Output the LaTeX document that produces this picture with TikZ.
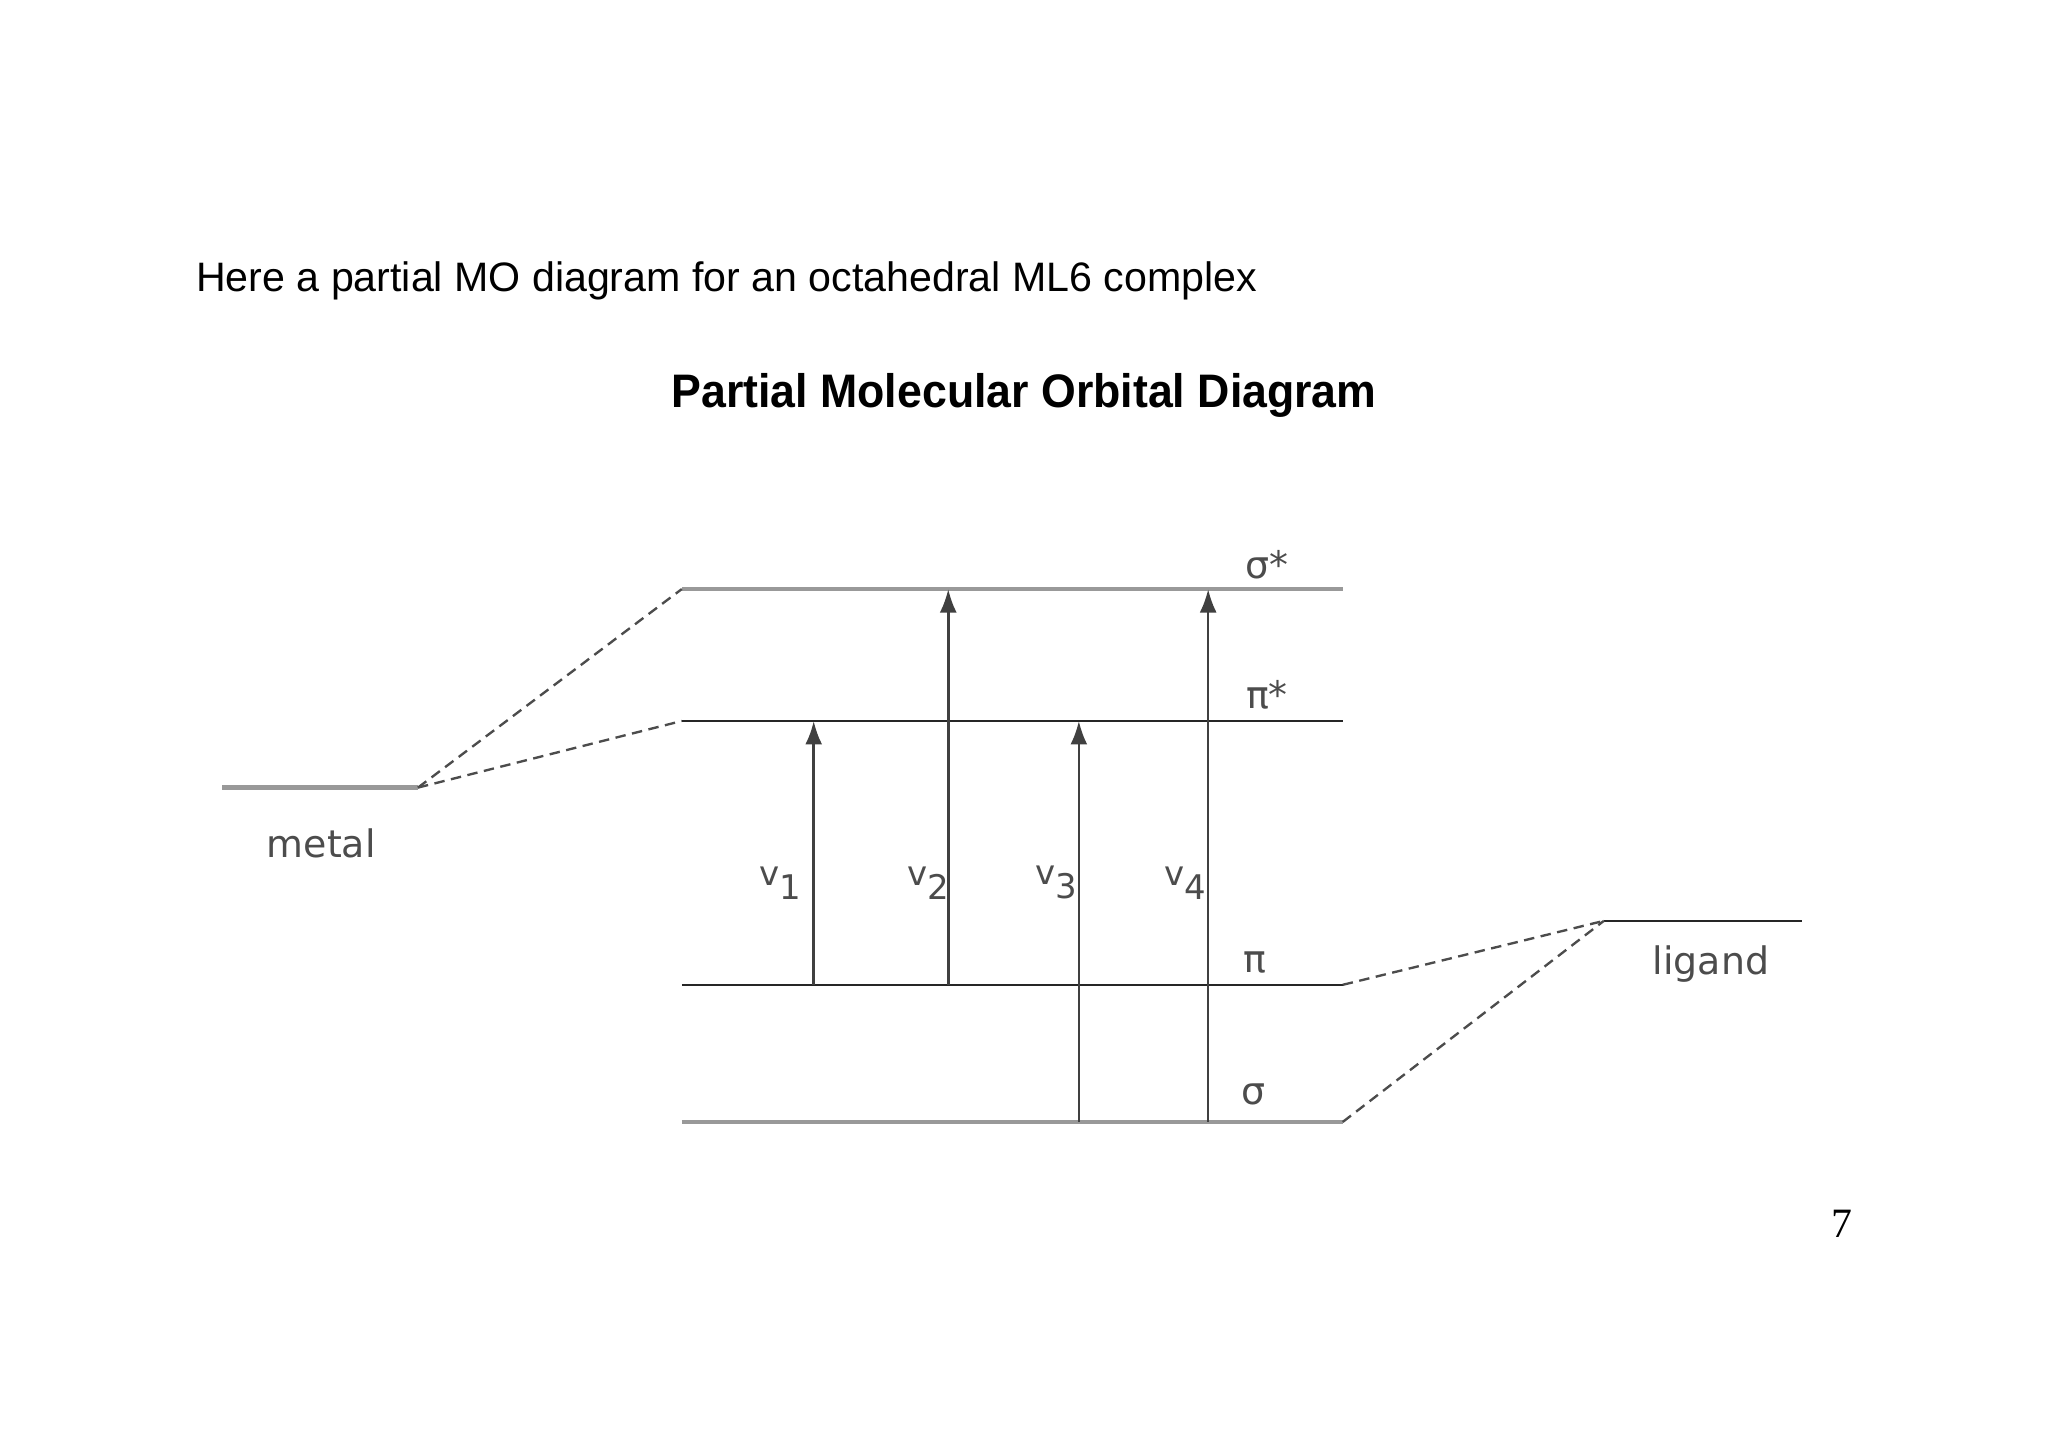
\documentclass[tikz,border=0pt]{standalone}
\usepackage{fontspec}
\usetikzlibrary{arrows.meta}
\setmainfont{Liberation Sans}
\newfontfamily\dejavu{DejaVu Sans}
\newfontfamily\serifnum{Liberation Serif}
\begin{document}
\begin{tikzpicture}[x=1pt,y=-1pt,
  lvlgray/.style={draw=gray!80,line width=3.5pt},
  lvldark/.style={draw=black!85,line width=2pt},
  conn/.style={draw=black!70,line width=1.8pt,dash pattern=on 8pt off 5pt},
  arr/.style={draw=black!75,line width=2pt,-{Latex[length=18pt,width=13pt]}},
  lab/.style={font=\dejavu\fontsize{29}{33}\selectfont,text=black!70,inner sep=0pt},
  vlab/.style={font=\dejavu\fontsize{26}{30}\selectfont,text=black!70,inner sep=0pt}]
\useasboundingbox[fill=white] (0,0) rectangle (1568,1105);
\node[anchor=west,inner sep=0pt,font=\fontsize{31.5}{36}\selectfont] (hdr) at (150,215) {Here a partial MO diagram for an octahedral ML6 complex};
\node[inner sep=0pt,font=\bfseries\fontsize{36}{42}\selectfont,xscale=0.95] (ttl) at (784,303) {Partial Molecular Orbital Diagram};
\node[font=\serifnum\fontsize{32}{36}\selectfont,inner sep=0pt] (pg) at (1410,937) {7};
% levels
\coordinate (m1) at (170,603); \coordinate (m2) at (320,603);
\coordinate (ss1) at (522,451); \coordinate (ss2) at (1028,451);
\coordinate (ps1) at (522,552); \coordinate (ps2) at (1028,552);
\coordinate (p1) at (522,754); \coordinate (p2) at (1028,754);
\coordinate (s1) at (522,859); \coordinate (s2) at (1028,859);
\coordinate (l1) at (1228,705); \coordinate (l2) at (1380,705);
\draw[lvlgray] (m1) -- (m2);
\draw[lvlgray] (ss1) -- (ss2);
\draw[lvldark] (ps1) -- (ps2);
\draw[lvldark] (p1) -- (p2);
\draw[lvlgray] (s1) -- (s2);
\draw[lvldark] (l1) -- (l2);
\draw[conn] (m2) -- (ss1);
\draw[conn] (m2) -- (ps1);
\draw[conn] (p2) -- (l1);
\draw[conn] (s2) -- (l1);
% arrows
\coordinate (a1b) at (623,754); \coordinate (a1t) at (623,552);
\coordinate (a2b) at (726,754); \coordinate (a2t) at (726,451);
\coordinate (a3b) at (826,859); \coordinate (a3t) at (826,552);
\coordinate (a4b) at (925,859); \coordinate (a4t) at (925,451);
\draw[arr] (a1b) -- (a1t);
\draw[arr] (a2b) -- (a2t);
\draw[arr] (a3b) -- (a3t);
\draw[arr] (a4b) -- (a4t);
\node[vlab] (v1) at (598,676) {v$_{\mbox{\dejavu 1}}$};
\node[vlab] (v2) at (711,676) {v$_{\mbox{\dejavu 2}}$};
\node[vlab] (v3) at (809,676) {v$_{\mbox{\dejavu 3}}$};
\node[vlab] (v4) at (908,676) {v$_{\mbox{\dejavu 4}}$};
\node[lab] (lss) at (970,432) {σ*};
\node[lab] (lps) at (970,532) {π*};
\node[lab] (lp) at (961,737) {π};
\node[lab] (ls) at (960,838) {σ};
\node[lab] (metal) at (246,646) {metal};
\node[lab] (ligand) at (1310,738) {ligand};
\end{tikzpicture}
\end{document}
